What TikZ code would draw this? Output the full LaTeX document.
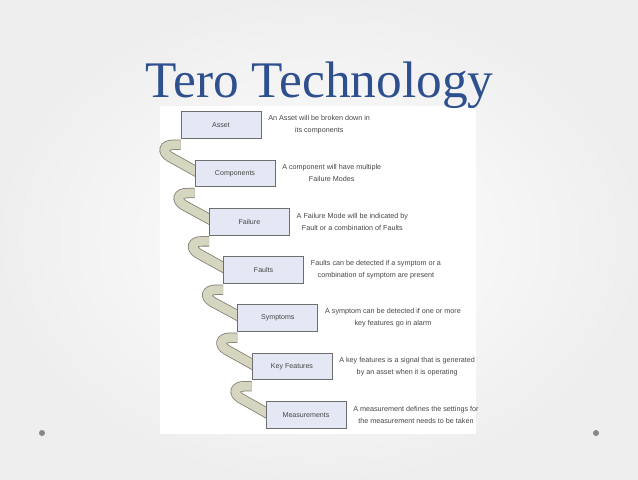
\documentclass[tikz,border=0pt]{standalone}
\usepackage{fontspec}
\setmainfont{Liberation Serif}
\setsansfont{Liberation Sans}
\usetikzlibrary{calc,positioning,backgrounds}
\definecolor{titleblue}{RGB}{47,80,143}
\definecolor{boxfill}{RGB}{228,232,245}
\definecolor{boxline}{RGB}{110,110,110}
\definecolor{pipefill}{RGB}{214,214,192}
\definecolor{pipeline}{RGB}{125,126,110}
\definecolor{txtgray}{RGB}{70,70,70}
\definecolor{dotgray}{RGB}{135,135,135}

\begin{document}
\begin{tikzpicture}[x=0.75pt,y=-0.75pt,node distance=5pt,
  stepbox/.style={draw=boxline, line width=0.6pt, fill=boxfill,
    minimum width=60pt, minimum height=20pt, inner sep=0pt,
    font=\sffamily\fontsize{5.3}{6}\selectfont, text=txtgray},
  note/.style={align=center, inner sep=0pt, text=txtgray,
    font=\sffamily\fontsize{5.4}{9}\selectfont},
  pipe/.style={draw=pipeline, line width=0.6pt, double=pipefill,
    double distance=6.6pt}]
  \useasboundingbox (0,0) rectangle (638,479);

  \node[anchor=base west, text=titleblue, font=\fontsize{38.5}{40}\selectfont]
    (title) at (141,97) {Tero Technology};

  \node[stepbox] (asset) at (221,125)   {Asset};
  \node[stepbox] (comp)  at (235,173.3) {Components};
  \node[stepbox] (fail)  at (249.4,221.6) {Failure};
  \node[stepbox] (fault) at (263.6,270) {Faults};
  \node[stepbox] (sympt) at (277.8,318) {Symptoms};
  \node[stepbox] (keyf)  at (292,366.5) {Key Features};
  \node[stepbox] (meas)  at (306,415)   {Measurements};

  \node[note] (dasset) [right=of asset] {An Asset will be broken down in\\its components};
  \node[note] (dcomp)  [right=of comp]  {A component will have multiple\\Failure Modes};
  \node[note] (dfail)  [right=of fail]  {A Failure Mode will be indicated by\\Fault or a combination of Faults};
  \node[note] (dfault) [right=of fault] {Faults can be detected if a symptom or a\\combination of symptom are present};
  \node[note] (dsympt) [right=of sympt] {A symptom can be detected if one or more\\key features go in alarm};
  \node[note] (dkeyf)  [right=of keyf]  {A key features is a signal that is generated\\by an asset when it is operating};
  \node[note] (dmeas)  [right=of meas]  {A measurement defines the settings for\\the measurement needs to be taken};

  \node[circle, fill=dotgray, inner sep=0pt, minimum size=4.5pt] (dotl) at (42,433) {};
  \node[circle, fill=dotgray, inner sep=0pt, minimum size=4.5pt] (dotr) at (596,433) {};

  \begin{scope}[on background layer]
    \shade[inner color=white, outer color=gray!13] (0,0) rectangle (638,479);
    \fill[white] (160,106) rectangle (476,434);
    \foreach \a/\b in {asset/comp, comp/fail, fail/fault, fault/sympt, sympt/keyf, keyf/meas}
      \draw[pipe] ($(\a.south west)+(0,6)$) -- ($(\a.south west)+(-7,6)$)
        .. controls ($(\a.south west)+(-17,6)$) and ($(\a.south west)+(-19,13)$)
        .. ($(\a.south west)+(-11,18)$) -- ($(\b.west)+(3,-1)$);
  \end{scope}
\end{tikzpicture}
\end{document}
